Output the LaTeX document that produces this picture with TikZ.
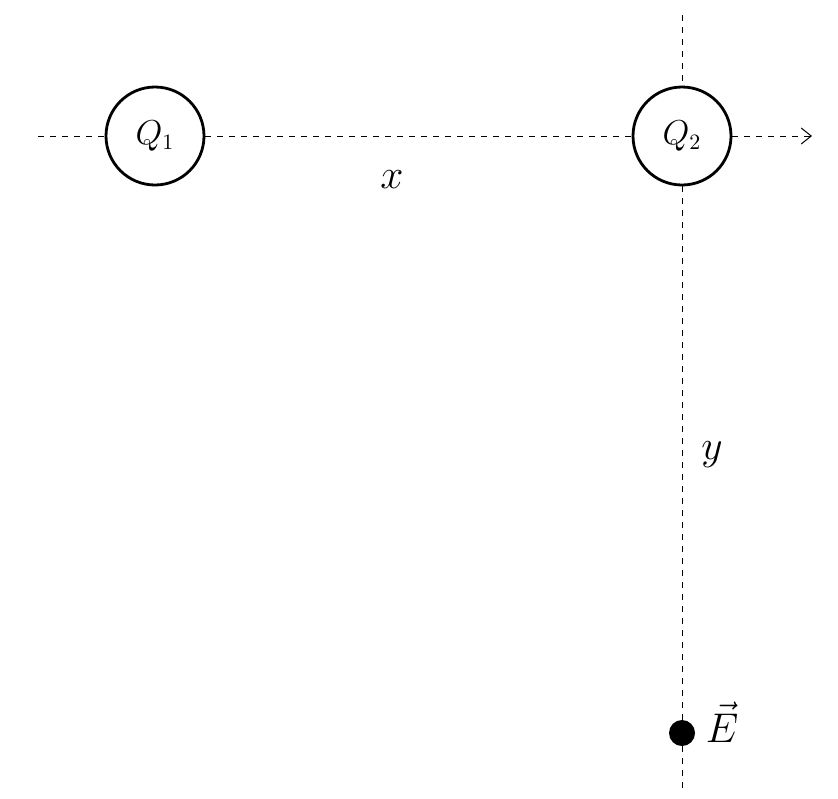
\documentclass[tikz,border=0pt]{standalone}
\usetikzlibrary{arrows.meta}
\begin{document}
\begin{tikzpicture}[x=0.5pt,y=-0.5pt,
  charge/.style={circle,draw,line width=1.4pt,minimum size=49pt,inner sep=0pt,font=\fontsize{16}{18}\selectfont},
  axis/.style={dashed,line width=0.5pt},
  lbl/.style={font=\fontsize{20}{24}\selectfont}]
\useasboundingbox (0,0) rectangle (838,798);
\node[charge] (q1) at (155,136) {$Q_1$};
\node[charge] (q2) at (682,136) {$Q_2$};
\node[circle,fill,minimum size=13pt,inner sep=0pt] (e) at (682,733) {};
\coordinate (l) at (38,136);
\coordinate (r) at (812,136);
\coordinate (t) at (682,15);
\coordinate (b) at (682,790);
\draw[axis] (l) -- (q1.west);
\draw[axis] (q1.east) -- (q2.west);
\draw[axis,-{Straight Barb[length=5pt,width=8pt]}] (q2.east) -- (r);
\draw[axis] (t) -- (q2.north);
\draw[axis] (q2.south) -- (e);
\draw[axis] (e) -- (b);
\node[lbl] (lx) at (392,180) {$x$};
\node[lbl] (ly) at (712,455) {$y$};
\node[lbl] (le) at (722,722) {$\vec{E}$};
\end{tikzpicture}
\end{document}
